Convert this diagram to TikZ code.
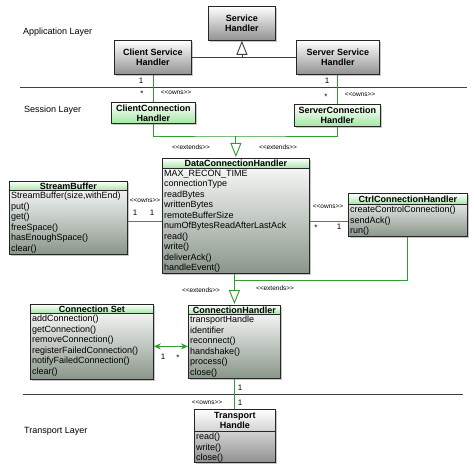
\documentclass[tikz,border=0pt]{standalone}
\usepackage{fontspec}
\setmainfont{Liberation Sans}
\usetikzlibrary{shadows,arrows.meta,positioning}

\definecolor{linkgreen}{RGB}{50,155,50}
\definecolor{headlow}{RGB}{165,230,165}
\definecolor{bodymid}{RGB}{155,228,155}
\definecolor{bodylow}{RGB}{138,150,138}
\definecolor{greylow}{RGB}{145,145,145}

\newcommand{\stereotype}[1]{<{}<#1>{}>}

\tikzset{
  shadowed/.style={drop shadow={opacity=0.45,shadow xshift=1.3pt,shadow yshift=-1.3pt}},
  greybox/.style={draw=black!85,line width=0.8pt,shadowed,top color=white,bottom color=greylow,
    inner sep=0pt,align=center,font=\fontsize{9}{10.5}\selectfont\bfseries},
  greenbox/.style={draw=black!85,line width=0.8pt,shadowed,top color=white,bottom color=headlow,
    inner sep=0pt,align=center,font=\fontsize{9}{10}\selectfont\bfseries},
  classbody/.style={draw=black!85,line width=0.8pt,shadowed,top color=white,middle color=bodymid,
    bottom color=bodylow,inner sep=0pt,anchor=north west},
  greybody/.style={draw=black!85,line width=0.8pt,shadowed,top color=white,bottom color=greylow,
    inner sep=0pt,anchor=north west},
  classhead/.style={draw=black!85,line width=0.8pt,top color=white,bottom color=headlow,inner sep=0pt,
    anchor=north west,font=\fontsize{9}{10}\selectfont\bfseries},
  greyhead/.style={draw=black!85,line width=0.8pt,top color=white,bottom color=gray!35,inner sep=0pt,
    anchor=north west,align=center,font=\fontsize{9}{10.5}\selectfont\bfseries},
  members/.style={anchor=north west,align=left,inner xsep=2pt,inner ysep=1pt,
    font=\fontsize{9}{10.5}\selectfont},
  layer/.style={anchor=west,inner sep=0pt,font=\fontsize{9}{10}\selectfont},
  stereo/.style={inner sep=0pt,text=black,font=\fontsize{6.5}{7}\selectfont},
  mult/.style={inner sep=0pt,font=\fontsize{8}{9}\selectfont},
  link/.style={draw=linkgreen,line width=0.9pt},
  genarrow/.style={-{Triangle[open,length=14pt,width=11pt,line width=0.9pt]}},
  sep/.style={draw=black!75,line width=0.7pt}
}

\begin{document}
\begin{tikzpicture}[x=1pt,y=-1pt]
  \useasboundingbox (0,0) rectangle (474,473);

  % layers
  \node[layer] (appl) at (23,32) {Application Layer};
  \node[layer] (sessl) at (24,110) {Session Layer};
  \node[layer] (transl) at (24,431) {Transport Layer};
  \draw[sep] (20,87) -- (467,87);
  \draw[sep] (23,394) -- (463,394);

  % application layer
  \node[greybox,minimum width=67pt,minimum height=34pt,anchor=north west] (svc) at (208,6) {Service\\Handler};
  \node[greybox,minimum width=77pt,minimum height=34pt,anchor=north west] (csh) at (114,40) {Client Service\\Handler};
  \node[greybox,minimum width=83pt,minimum height=34pt,anchor=north west] (ssh) at (296,40) {Server Service\\Handler};

  % session layer
  \node[greenbox,minimum width=84pt,minimum height=21pt,anchor=north west] (cch) at (111,102) {ClientConnection\\Handler};
  \node[greenbox,minimum width=86pt,minimum height=22pt,anchor=north west] (sch) at (294,104) {ServerConnection\\Handler};

  \node[classbody,minimum width=147pt,minimum height=115pt] (dch) at (162,158) {};
  \node[classhead,minimum width=147pt,minimum height=10pt] (dchh) at (dch.north west) {DataConnectionHandler};
  \node[members] (dchm) at (dchh.south west) {MAX\_RECON\_TIME\\connectionType\\readBytes\\writtenBytes\\remoteBufferSize\\numOfBytesReadAfterLastAck\\read()\\write()\\deliverAck()\\handleEvent()};

  \node[classbody,minimum width=118pt,minimum height=73pt] (sb) at (9,181) {};
  \node[classhead,minimum width=118pt,minimum height=9pt] (sbh) at (sb.north west) {StreamBuffer};
  \node[members] (sbm) at (sbh.south west) {StreamBuffer(size,withEnd)\\put()\\get()\\freeSpace()\\hasEnoughSpace()\\clear()};

  \node[classbody,minimum width=119pt,minimum height=43pt] (ctrl) at (348,193) {};
  \node[classhead,minimum width=119pt,minimum height=11pt] (ctrlh) at (ctrl.north west) {CtrlConnectionHandler};
  \node[members] (ctrlm) at (ctrlh.south west) {createControlConnection()\\sendAck()\\run()};

  \node[classbody,minimum width=123pt,minimum height=75pt] (cset) at (30,304) {};
  \node[classhead,minimum width=123pt,minimum height=9pt] (cseth) at (cset.north west) {Connection Set};
  \node[members] (csetm) at (cseth.south west) {addConnection()\\getConnection()\\removeConnection()\\registerFailedConnection()\\notifyFailedConnection()\\clear()};

  \node[classbody,minimum width=92pt,minimum height=73pt] (ch) at (188,305) {};
  \node[classhead,minimum width=92pt,minimum height=9pt] (chh) at (ch.north west) {ConnectionHandler};
  \node[members] (chm) at (chh.south west) {transportHandle\\identifier\\reconnect()\\handshake()\\process()\\close()};

  % transport layer
  \node[greybody,minimum width=81pt,minimum height=53pt] (th) at (194,409) {};
  \node[greyhead,minimum width=81pt,minimum height=22pt] (thh) at (th.north west) {Transport\\Handle};
  \node[members] (thm) at (thh.south west) {read()\\write()\\close()};

  % inheritance
  \draw[sep] (csh.east) -- (ssh.west);
  \coordinate (svcjoin) at (svc.south |- csh.east);
  \draw[sep,genarrow] (svcjoin) -- (svc.south);

  \coordinate (dchjoin) at (dch.north |- 0,136);
  \draw[link] (cch.south) |- (dchjoin) -| (sch.south);
  \draw[link,genarrow] (dchjoin) -- ([yshift=1pt]dch.north);

  \coordinate (chjoin) at (ch.north |- 0,280);
  \draw[link] (dch.south -| ch.north) -- (chjoin);
  \draw[link] (ctrl.south) |- (chjoin);
  \draw[link,genarrow] (chjoin) -- ([yshift=1pt]ch.north);

  \node[stereo] (ext1) at (191,147) {\stereotype{extends}};
  \node[stereo] (ext2) at (278,147) {\stereotype{extends}};
  \node[stereo] (ext3) at (201,290) {\stereotype{extends}};
  \node[stereo] (ext4) at (275,288) {\stereotype{extends}};

  % ownership
  \draw[link] (cch.north) -- (cch.north |- csh.south);
  \draw[link] (sch.north) -- (sch.north |- ssh.south);
  \draw[link] ([yshift=-3.5pt]sb.east) -- ([yshift=-3.5pt]sb.east -| dch.west);
  \draw[link] ([yshift=-6.5pt]ctrl.west) -- ([yshift=-6.5pt]ctrl.west -| dch.east);
  \draw[link,{Stealth[length=7pt,width=6pt]}-{Stealth[length=7pt,width=6pt]}]
    ([yshift=-4.5pt]cset.east) -- ([yshift=-4.5pt]cset.east -| ch.west);
  \draw[link] (ch.south) -- (ch.south |- th.north);

  \node[stereo] (own1) at (176,93) {\stereotype{owns}};
  \node[stereo] (own2) at (360,95) {\stereotype{owns}};
  \node[stereo] (own3) at (145,201) {\stereotype{owns}};
  \node[stereo] (own4) at (328,207) {\stereotype{owns}};
  \node[stereo] (own5) at (207,403) {\stereotype{owns}};

  % multiplicities
  \node[mult] (m1) at (141,81) {1};
  \node[mult] (m2) at (142,94) {*};
  \node[mult] (m3) at (327,81) {1};
  \node[mult] (m4) at (326,97) {*};
  \node[mult] (m5) at (135,213) {1};
  \node[mult] (m6) at (152,213) {1};
  \node[mult] (m7) at (316,228) {*};
  \node[mult] (m8) at (339,227) {1};
  \node[mult] (m9) at (163,357) {1};
  \node[mult] (m10) at (178,358) {*};
  \node[mult] (m11) at (240,388) {1};
  \node[mult] (m12) at (240,403) {1};
\end{tikzpicture}
\end{document}
